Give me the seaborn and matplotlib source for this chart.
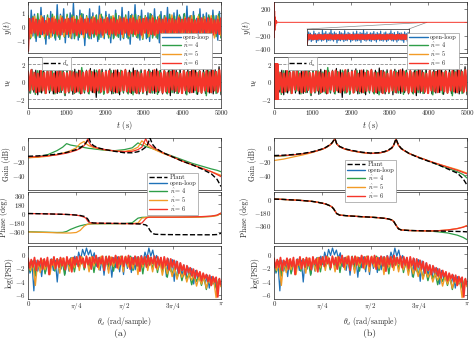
import numpy as np
import matplotlib
matplotlib.use("Agg")
import matplotlib.pyplot as plt
import seaborn as sns
from matplotlib.lines import Line2D
from matplotlib.patches import ConnectionPatch

# ------------------------------------------------------------------ data
time_ticks = [0, 1000, 2000, 3000, 4000, 5000]
freq_ticks_frac = [0, 0.25, 0.5, 0.75, 1.0]
freq_tick_labels = ['0', r'$\pi/4$', r'$\pi/2$', r'$3\pi/4$', r'$\pi$']
ctrl_labels = ['open-loop', r'$\hat{n}=4$', r'$\hat{n}=5$', r'$\hat{n}=6$']

# output y(t) samples
y_open = [0.6,-0.9,1.2,-0.7,0.9,-1.1,0.5,-0.8,1.4,-0.6,
          0.8,-1.3,0.7,-0.9,1.1,-0.7,0.6,-1.0,1.6,-0.8,
          0.9,-0.6,1.3,-1.2,0.7,-0.8,1.0,-0.9,1.7,-0.7,
          0.8,-1.0,1.2,-0.6,0.9,-1.4,0.6,-0.8,1.3,-0.9,
          1.0,-0.7,0.8,-1.1,1.5,-0.8,0.7,-0.9,1.1,-0.6,
          0.9,-1.2,0.6,-0.8,1.2,-0.7,0.8,-1.0,1.4,-0.9,
          0.7,-0.8,1.1,-1.3,0.9,-0.6,1.6,-0.8,0.8,-1.0,
          1.2,-0.7,0.6,-0.9,1.0,-1.1,0.9,-0.7,1.3,-0.8,
          0.7,-1.2,1.1,-0.6,0.8,-0.9,1.4,-0.8,0.6,-1.0,
          1.0,-0.7,1.2,-1.1,0.7,-0.8,0.9,-0.6,1.5,-0.9,
          0.8,-1.0,1.1,-0.7,0.6,-1.2,1.3,-0.8,0.9,-0.7,
          1.0,-0.9,0.7,-1.3,1.2,-0.6,0.8,-1.0,1.1,-0.8]
y_n4 = [0.8,-0.9,0.75,-0.85,0.95,-0.8,0.7,-0.9,0.85,-0.75,
        0.9,-0.85,0.8,-0.95,0.75,-0.8,0.9,-0.7,0.85,-0.9,
        0.75,-0.8,0.95,-0.85,0.8,-0.9,0.7,-0.8,0.85,-0.95,
        0.9,-0.75,0.8,-0.85,0.75,-0.9,0.95,-0.8,0.7,-0.85,
        0.85,-0.9,0.8,-0.75,0.9,-0.85,0.75,-0.95,0.8,-0.8,
        0.95,-0.85,0.7,-0.9,0.85,-0.8,0.8,-0.75,0.9,-0.9,
        0.75,-0.85,0.85,-0.8,0.95,-0.9,0.7,-0.85,0.8,-0.95,
        0.9,-0.8,0.75,-0.85,0.85,-0.9,0.8,-0.75,0.9,-0.85]
y_n5 = [0.7,-0.8,0.75,-0.7,0.8,-0.75,0.65,-0.8,0.75,-0.7,
        0.8,-0.75,0.7,-0.85,0.75,-0.7,0.8,-0.8,0.7,-0.75,
        0.75,-0.7,0.85,-0.8,0.7,-0.75,0.8,-0.7,0.75,-0.8,
        0.7,-0.75,0.8,-0.7,0.75,-0.85,0.7,-0.75,0.8,-0.7,
        0.75,-0.8,0.7,-0.75,0.85,-0.7,0.75,-0.8,0.7,-0.75,
        0.8,-0.7,0.75,-0.8,0.7,-0.75,0.8,-0.85,0.75,-0.7]
y_n6 = [-1.8,0.55,-0.5,0.6,-0.45,0.5,-0.6,0.45,-0.55,0.6,
        -0.5,0.4,-0.6,0.55,-0.45,0.6,-0.5,0.5,-0.55,0.45,
        -0.6,0.6,-0.4,0.5,-0.55,0.55,-0.5,0.6,-0.45,0.5,
        -0.6,0.45,-0.5,0.6,-0.55,0.5,-0.45,0.55,-0.6,0.5,
        -0.5,0.6,-0.55,0.45,-0.5,0.55,-0.6,0.5,-0.45,0.6,
        -0.55,0.5,-0.5,0.6,-0.6,0.45,-0.5,0.55,-0.55,0.6,
        -0.45,0.5,-0.6,0.55,-0.5,0.6,-0.55,0.45,-0.5,0.5,
        -0.6,0.55,-0.45,0.6,-0.5,0.5,-0.55,0.6,-0.6,0.45,
        -0.5,0.55,-0.55,0.5,-0.45,0.6,-0.6,0.5,-0.5,0.55,
        -0.55,0.45,-0.6,0.6,-0.5,0.5,-0.45,0.55,-0.6,0.6,
        -0.5,0.5,-0.55,0.45,-0.6,0.55,-0.5,0.6,-0.45,0.5,
        -0.55,0.6,-0.5,0.55,-0.6,0.45,-0.5,0.5,-0.55,0.6]

# (b) start-up transient of y(t)
trans_t = [0, 6, 12, 18, 24, 32, 42, 55, 70, 90, 120, 5000]
trans_y = [0, 300, -230, 170, -120, 80, -50, 30, -15, 6, 0, 0]

# control input u_t samples
u_da = [1.2,-1.3,1.4,-1.2,1.3,-1.5,1.25,-1.3,1.35,-1.2,
        1.6,-1.3,1.3,-1.4,1.2,-1.35,1.45,-1.25,1.3,-1.6,
        1.35,-1.3,1.25,-1.45,1.4,-1.2,1.3,-1.4,1.25,-1.3,
        1.3,-1.35,1.5,-1.25,1.35,-1.8,1.2,-1.3,1.4,-1.35,
        1.3,-1.25,1.45,-1.4,1.3,-1.3,1.35,-1.5,1.25,-1.3,
        1.4,-1.3,1.3,-1.35,1.55,-1.25,1.3,-1.4,1.35,-1.3,
        1.25,-1.5,1.4,-1.3,1.3,-1.35,1.45,-1.25,1.3,-1.4,
        1.35,-1.3,1.25,-1.6,1.4,-1.3,1.3,-1.35,1.5,-1.25,
        1.3,-1.4,1.4,-1.3,1.35,-1.25,1.3,-1.45,1.25,-1.3,
        1.4,-1.35,1.3,-1.3,1.45,-1.4,1.35,-1.3,1.7,-1.5]
u_n4 = [1.2,-1.3,1.1,-1.45,1.25,-1.2,1.15,-1.35,1.3,-1.1,
        1.2,-1.4,1.1,-1.25,1.3,-1.5,1.15,-1.2,1.25,-1.35,
        1.1,-1.3,1.6,-1.2,1.2,-1.4,1.15,-1.25,1.3,-1.3,
        1.2,-1.45,1.1,-1.2,1.25,-1.35,1.15,-1.3,1.3,-1.2,
        1.2,-1.4,1.1,-1.5,1.25,-1.25,1.15,-1.35,1.3,-1.2,
        1.2,-1.3,1.1,-1.45,1.25,-1.2,1.15,-1.4,1.3,-1.25,
        1.2,-1.35,1.1,-1.3,1.25,-1.5,1.15,-1.2,1.3,-1.4,
        1.2,-1.3,1.1,-1.6,1.25,-1.25,1.15,-1.35,1.3,-1.2]
u_n6 = [1.1,-1.0,1.3,-0.9,1.0,-1.2,0.9,-1.1,1.2,-1.0,
        1.0,-1.3,1.1,-0.9,1.25,-1.0,0.9,-1.2,1.1,-1.1,
        1.2,-0.95,1.0,-1.25,0.95,-1.1,1.3,-1.0,1.05,-1.2,
        0.9,-1.05,1.2,-1.3,1.0,-0.9,1.15,-1.1,1.25,-1.0,
        1.05,-1.2,0.95,-1.0,1.3,-1.15,1.0,-0.95,1.1,-1.25,
        1.2,-1.0,0.9,-1.1,1.25,-1.2,1.0,-1.05,1.15,-0.95,
        1.3,-1.1,1.0,-1.2,0.95,-1.0,1.2,-1.3,1.05,-1.1,
        0.9,-1.15,1.25,-1.0,1.1,-1.2,1.0,-0.95,1.3,-1.1,
        1.15,-1.0,0.95,-1.25,1.2,-1.1,1.0,-1.2,1.1,-0.9,
        1.25,-1.05,1.0,-1.15,0.9,-1.3,1.2,-1.0,1.05,-1.1,
        1.1,-1.2,1.3,-0.95,1.0,-1.1,1.15,-1.25,0.95,-1.0,
        1.2,-1.1,1.05,-1.2,1.25,-1.0,1.1,-1.15,1.3,-1.05]
u_bound = [-2, 2]
# (b) saturated start of u_t
sat_t = [0, 10, 20, 30, 40, 50, 60, 70, 80, 90, 100, 110]
sat_u = [2, -2, 2, -2, 2, -2, 2, -2, 2, -2, 2, -2]

# frequency grid (fractions of pi) for the Bode curves
bode_frac = [0, .05, .1, .15, .18, .2, .22, .25, .27, .29, .3, .31, .316, .325, .34,
             .37, .4, .45, .5, .54, .57, .59, .61, .62, .632, .645, .66, .7, .75, .8,
             .85, .9, .95, .98, 1.0]
# (a) gain, dB
gain_a_plant = [-13,-12.5,-11.5,-10,-8.5,-7.5,-6,-3.5,-1,3,6,10,13,6,2,
                -1.5,-3.5,-6,-8,-8,-6.5,-4,0,4,13,4,-1,-8,-14,-20,-25,-31,-38,-46,-56]
gain_a_n4 = [-15,-14,-11,-5,0,5,3,1.5,0.5,-0.5,-1,-1.5,-1.8,-2,-2.5,
             -3.5,-4.5,-5,-3.5,-1,6,3,1,0,-1,-2,-3.5,-8,-13,-18,-23,-27,-31,-33,-35]
gain_a_n5 = [-15,-14.5,-13,-10.5,-8.5,-7,-5,-1,5,8,5,3,2,1,-0.5,
             -2.5,-4,-5.5,-6,-4,0,9,4,2,0,-2,-4,-9,-14,-20,-25,-30,-35,-38,-40]
gain_a_n6 = [-14,-13.5,-12.5,-11,-9.5,-8.5,-7,-4.5,-2,2,6,12,7,3,0.5,
             -2,-3.5,-5.5,-6.5,-6,-3.5,0,12,6,3,0,-2,-8,-14,-20,-25,-30,-35,-39,-42]
# (a) phase, deg
phase_a_plant = [0,-3,-7,-12,-15,-18,-22,-30,-38,-55,-70,-110,-150,-175,-185,
                 -188,-190,-192,-195,-198,-202,-208,-222,-250,-330,-390,-405,-410,-412,-413,
                 -414,-415,-415,-410,-385]
phase_a_n4 = [-355,-360,-365,-370,-368,-350,-310,-265,-240,-222,-215,-208,-205,-203,-201,
              -200,-199,-198,-196,-180,-90,-75,-72,-72,-72,-72,-72,-72,-72,-71,
              -69,-65,-55,-35,5]
phase_a_n5 = [-360,-365,-370,-376,-379,-380,-380,-370,-330,-250,-225,-210,-205,-200,-198,
              -197,-196,-196,-196,-195,-185,-90,-78,-75,-75,-75,-75,-75,-75,-74,
              -72,-68,-58,-40,0]
phase_a_n6 = [0,-3,-7,-12,-15,-18,-22,-32,-45,-70,-90,-150,-172,-180,-186,
              -189,-191,-193,-196,-199,-200,-185,-100,-75,-70,-70,-70,-70,-70,-68,
              -65,-60,-50,-30,10]
# (b) gain, dB
gain_b_plant = [-12,-11.5,-10.5,-9,-7.5,-6.5,-5,-2.5,0,3.5,6,10,12,5,1,
                -2.5,-4.5,-7,-8.5,-8,-6.5,-4.5,-1,3,12,3,-2,-9,-15,-20,-25,-31,-37,-45,-54]
gain_b_n4 = [-13,-12.5,-11,-9.5,-8,-7,-5.5,-3,-0.5,3,5.5,9.5,11.5,4.5,0.5,
             -3,-5,-7.5,-9,-8.5,-7,-5,-1.5,2.5,11,2.5,-2.5,-9,-14.5,-19.5,-25,-30,-35,-39,-44]
gain_b_n5 = [-19,-17,-14,-11,-9,-7.5,-5.5,-3,-0.5,3,5.5,9.5,11.5,4.5,0.5,
             -3,-5,-7.5,-9,-8.5,-7,-5,-1.5,2.5,11,2.5,-2.5,-9,-14.5,-19.5,-24,-28,-32,-35,-37]
gain_b_n6 = [-12.5,-12,-11,-9.5,-8,-7,-5.5,-3,-0.5,3,5.5,9.5,11.5,4.5,0.5,
             -3,-5,-7.5,-9,-8.5,-7,-5,-1.5,2.5,11,2.5,-2.5,-9,-14.5,-19.5,-24,-28.5,-33,-36,-38]
# (b) phase, deg
phase_b_plant = [0,-5,-12,-20,-27,-32,-40,-55,-68,-90,-105,-135,-160,-195,-215,
                 -222,-228,-236,-243,-250,-258,-265,-280,-300,-350,-400,-415,-422,-425,-428,
                 -430,-432,-435,-437,-440]
phase_b_n4 = phase_b_plant[:30] + [-440,-455,-485,-515,-545]
phase_b_n5 = phase_b_plant[:30] + [-425,-415,-395,-375,-355]
phase_b_n6 = phase_b_plant[:30] + [-425,-415,-397,-378,-358]

# log(PSD) samples over [0, pi]
psd_open = [-1.0,-2.8,-1.2,-5.4,-0.9,-2.5,-1.1,-3.3,-0.8,-2.6,
            -1.0,-3.0,-0.7,-2.4,-0.9,-4.1,-0.8,-2.2,-0.6,-2.9,
            -0.7,-2.5,-0.5,-2.0,-0.3,-1.5,0.3,-0.8,0.7,-0.2,
            0.9,-0.1,0.6,-0.6,0.2,-1.8,-0.5,-2.4,-0.6,-3.1,
            -0.5,-2.2,-0.6,-3.4,-0.5,-2.0,-0.4,-2.6,-0.5,-3.0,
            -0.5,-2.1,-0.4,-2.7,-0.5,-2.3,-0.4,-1.9,-0.2,-1.2,
            0.3,-0.6,0.9,-0.3,0.6,-0.9,-0.2,-2.0,-0.5,-2.6,
            -0.6,-3.3,-0.7,-2.5,-0.8,-4.0,-1.0,-2.8,-1.3,-3.2,
            -1.6,-3.6,-1.9,-3.3,-2.1,-4.4,-2.4,-3.6,-2.7,-4.0,
            -3.0,-4.3,-3.1,-5.0,-3.3,-4.4,-3.5,-5.6,-3.7,-4.7]
psd_n4 = [-1.2,-2.6,-1.0,-3.2,-1.1,-2.4,-0.9,-2.9,-1.0,-2.2,
          -0.8,-2.5,-0.7,-2.0,-0.9,-3.1,-0.6,-2.2,-0.5,-2.6,
          -0.6,-1.9,-0.4,-2.3,-0.5,-1.8,-0.4,-2.7,-0.5,-2.0,
          -0.4,-2.2,-0.3,-1.8,-0.5,-2.5,-0.4,-1.9,-0.3,-2.1,
          -0.4,-1.7,-0.3,-2.4,-0.4,-1.8,-0.5,-2.9,-0.4,-2.0,
          -0.5,-2.2,-0.6,-2.7,-0.9,-2.5,-1.2,-3.4,-1.5,-3.0,
          -1.9,-3.5,-2.2,-3.9,-2.5,-3.6,-2.8,-4.5,-3.0,-4.0,
          -3.2,-4.6,-3.3,-5.2,-3.5,-4.5,-3.7,-5.0,-3.8,-4.6]
psd_n5 = [-1.1,-2.4,-1.3,-4.6,-1.0,-2.7,-0.9,-2.3,-1.1,-3.0,
          -0.8,-2.2,-0.7,-2.8,-0.6,-2.1,-0.8,-2.5,-0.5,-2.0,
          -0.5,-2.4,-0.4,-1.9,-0.6,-2.6,-0.4,-1.7,-0.5,-2.3,
          -0.3,-2.0,-0.5,-2.8,-0.4,-1.8,-0.3,-2.2,-0.4,-2.6,
          -0.3,-1.9,-0.5,-2.1,-0.4,-3.0,-0.5,-1.9,-0.6,-2.4,
          -0.7,-2.6,-0.8,-2.3,-1.0,-3.1,-1.3,-2.9,-1.6,-3.3,
          -2.0,-3.7,-2.3,-3.4,-2.6,-4.1,-2.9,-3.8,-3.1,-4.7,
          -3.3,-4.4,-3.4,-5.0,-3.6,-4.6,-3.8,-6.4,-3.9,-4.8]
psd_n6 = [-0.6,-2.0,-0.8,-1.9,-0.5,-2.4,-0.9,-1.7,-0.6,-2.2,
          -0.7,-1.8,-0.5,-3.0,-0.8,-1.6,-0.4,-2.1,-0.7,-1.9,
          -0.5,-1.7,-0.6,-2.3,-0.4,-1.5,-0.7,-2.6,-0.5,-1.6,
          -0.4,-1.8,-0.3,-1.4,-0.6,-2.0,-0.3,-1.5,-0.5,-2.2,
          -0.4,-1.3,-0.2,-1.9,-0.5,-1.4,-0.3,-2.4,-0.4,-1.5,
          -0.3,-1.6,-0.5,-1.3,-0.2,-2.0,-0.4,-1.5,-0.3,-1.8,
          -0.4,-1.4,-0.2,-2.2,-0.5,-1.5,-0.3,-1.7,-0.4,-2.5,
          -0.3,-1.5,-0.4,-1.9,-0.2,-1.6,-0.5,-1.4,-0.3,-2.0,
          -0.4,-1.6,-0.5,-2.1,-0.4,-1.7,-0.6,-2.3,-0.7,-1.9,
          -0.9,-2.2,-1.1,-2.8,-1.3,-2.4,-1.6,-3.0,-1.7,-2.7,
          -2.0,-3.2,-2.2,-3.5,-2.4,-3.3,-2.6,-3.9,-2.8,-3.6,
          -3.0,-4.0,-3.1,-4.6,-3.3,-4.1,-3.4,-6.3,-3.6,-4.5]

# ------------------------------------------------------------------ style
sns.set_style("white")
plt.rcParams.update({
    'font.family': ['cmr10', 'DejaVu Serif'],
    'mathtext.fontset': 'cm',
    'axes.formatter.use_mathtext': True,
    'axes.unicode_minus': True,
    'axes.linewidth': 0.5,
    'axes.edgecolor': '#222222',
})

C_OPEN = '#1f72b8'
C_N4 = '#2e9e48'
C_N5 = '#f29b26'
C_N6 = '#f5352a'
FS = 5.0      # tick labels
LFS = 5.5     # axis labels

W, H = 474, 339
fig = plt.figure(figsize=(W / 100, H / 100), dpi=100)

col_x = [28, 274]
col_w = 193
rows = {'y': (2, 53), 'u': (57, 108), 'gain': (138, 190), 'phase': (192, 243), 'psd': (246, 299)}


def make_ax(col, row):
    top, bot = rows[row]
    ax = fig.add_axes([col_x[col] / W, 1 - bot / H, col_w / W, (bot - top) / H])
    ax.tick_params(direction='in', length=2, width=0.4, labelsize=FS, top=True, right=True, pad=1.5)
    for s in ax.spines.values():
        s.set_linewidth(0.5)
    return ax


def line(ax, x, y, color, lw=1.0, ls='-', z=2):
    sns.lineplot(x=np.asarray(x, float), y=np.asarray(y, float), ax=ax, color=color, lw=lw,
                 linestyle=ls, estimator=None, sort=False, legend=False, zorder=z)


def tgrid(arr):
    return np.linspace(0, 5000, len(arr))


def fgrid(arr):
    return np.linspace(0, np.pi, len(arr))


ctrl_handles = [Line2D([], [], color=c, lw=1.0) for c in (C_OPEN, C_N4, C_N5, C_N6)]
plant_handle = Line2D([], [], color='k', lw=1.0, ls='--')


def legend_box(handles, labels, anchor, target=None, fs=4.6, hl=2.6):
    kw = dict(loc='upper left', bbox_to_anchor=anchor, fontsize=fs, frameon=True,
              fancybox=False, edgecolor='#9a9a9a', framealpha=1, borderpad=0.25,
              labelspacing=0.0, handlelength=hl, handletextpad=0.4, borderaxespad=0)
    if target is None:
        leg = fig.legend(handles, labels, bbox_transform=fig.transFigure, **kw)
    else:
        leg = target.legend(handles, labels, **kw)
    leg.get_frame().set_linewidth(0.5)
    leg.set_zorder(20)
    return leg


fr = np.array(bode_frac) * np.pi
NOISE_LW = 1.6

for col in (0, 1):
    # ---- y(t)
    ax_y = make_ax(col, 'y')
    if col == 0:
        line(ax_y, tgrid(y_open), y_open, C_OPEN, lw=1.0)
        line(ax_y, tgrid(y_n4), y_n4, C_N4, lw=1.0)
        line(ax_y, tgrid(y_n5), y_n5, C_N5, lw=1.0)
        line(ax_y, tgrid(y_n6), y_n6, C_N6, lw=NOISE_LW)
        ax_y.set_ylim(-1.95, 1.8)
        ax_y.set_yticks([-1, 0, 1])
    else:
        line(ax_y, trans_t, trans_y, C_N6, lw=0.7)
        ax_y.set_ylim(-460, 305)
        ax_y.set_yticks([-400, -200, 0, 200])
        ins = ax_y.inset_axes([0.171, 0.157, 0.528, 0.314])
        line(ins, tgrid(y_open), y_open, C_OPEN, lw=0.8)
        line(ins, tgrid(y_n6), y_n6, C_N6, lw=1.2)
        ins.set_xlim(0, 5000)
        ins.set_ylim(-1.9, 1.9)
        ins.set_xticks([])
        ins.set_yticks([])
        ins.set_xlabel('')
        ins.set_ylabel('')
        for s in ins.spines.values():
            s.set_linewidth(0.5)
        for corner in ((0, 1), (1, 1)):
            cp = ConnectionPatch(xyA=corner, coordsA=ins.transAxes, xyB=(3960, 0),
                                 coordsB=ax_y.transData, color='#8a8a8a', lw=0.5)
            ax_y.add_artist(cp)
    ax_y.set_xlim(0, 5000)
    ax_y.set_xticks(time_ticks)
    ax_y.set_xticklabels([])
    ax_y.set_xlabel('')
    ax_y.set_ylabel(r'$y(t)$', fontsize=LFS + 0.5, labelpad=1)

    # ---- u_t
    ax_u = make_ax(col, 'u')
    for b in u_bound:
        ax_u.axhline(b, color='#8c8c8c', lw=0.6, ls='--', zorder=1)
    line(ax_u, tgrid(u_da), u_da, 'k', lw=0.8)
    line(ax_u, tgrid(u_n4), u_n4, C_N4, lw=1.0)
    line(ax_u, tgrid(u_n6), u_n6, C_N6, lw=NOISE_LW)
    if col == 1:
        line(ax_u, sat_t, sat_u, C_N6, lw=1.2)
    ax_u.set_xlim(0, 5000)
    ax_u.set_ylim(-3, 2.8)
    ax_u.set_yticks([-2, 0, 2])
    ax_u.set_xticks(time_ticks)
    ax_u.set_xticklabels([str(t) for t in time_ticks])
    ax_u.set_xlabel(r'$t$ (s)', fontsize=LFS + 0.5, labelpad=2)
    ax_u.set_ylabel(r'$u_t$', fontsize=LFS + 0.5, labelpad=1)
    legend_box([Line2D([], [], color='k', lw=1.0, ls='--')], [r'$d_a$'],
               (0.07, 1.0), target=ax_u)

    legend_box(ctrl_handles, ctrl_labels,
               ((160 if col == 0 else 407) / W, 1 - 33 / H), hl=3.0)

    # ---- gain
    ax_g = make_ax(col, 'gain')
    if col == 0:
        gains = (gain_a_n4, gain_a_n5, gain_a_n6, gain_a_plant)
        phases = (phase_a_n4, phase_a_n5, phase_a_n6, phase_a_plant)
    else:
        gains = (gain_b_n4, gain_b_n5, gain_b_n6, gain_b_plant)
        phases = (phase_b_n4, phase_b_n5, phase_b_n6, phase_b_plant)
    for g, c in zip(gains[:3], (C_N4, C_N5, C_N6)):
        line(ax_g, fr, g, c, lw=0.9)
    line(ax_g, fr, gains[3], 'k', lw=1.0, ls='--', z=3)
    ax_g.set_xlim(0, np.pi)
    ax_g.set_ylim(-61, 13)
    ax_g.set_yticks([-40, -20, 0])
    ax_g.set_xticks(np.array(freq_ticks_frac) * np.pi)
    ax_g.set_xticklabels([])
    ax_g.set_ylabel('Gain (dB)', fontsize=LFS, labelpad=1)

    # ---- phase
    ax_p = make_ax(col, 'phase')
    for p, c in zip(phases[:3], (C_N4, C_N5, C_N6)):
        line(ax_p, fr, p, c, lw=0.9)
    line(ax_p, fr, phases[3], 'k', lw=1.0, ls='--', z=3)
    ax_p.set_xlim(0, np.pi)
    if col == 0:
        ax_p.set_ylim(-575, 420)
        ax_p.set_yticks([-360, -180, 0, 180, 360])
    else:
        ax_p.set_ylim(-590, 95)
        ax_p.set_yticks([-360, -180, 0])
    ax_p.set_xticks(np.array(freq_ticks_frac) * np.pi)
    ax_p.set_xticklabels([])
    ax_p.set_ylabel('Phase (deg)', fontsize=LFS)
    if col == 0:
        ax_p.yaxis.set_label_coords(-0.105, 0.5)

    legend_box([plant_handle] + ctrl_handles, ['Plant'] + ctrl_labels,
               ((147 if col == 0 else 345) / W, 1 - (173 if col == 0 else 160) / H), hl=2.9)

    # ---- PSD
    ax_s = make_ax(col, 'psd')
    line(ax_s, fgrid(psd_open), psd_open, C_OPEN, lw=0.9)
    line(ax_s, fgrid(psd_n4), psd_n4, C_N4, lw=1.0)
    line(ax_s, fgrid(psd_n5), psd_n5, C_N5, lw=1.0)
    line(ax_s, fgrid(psd_n6), psd_n6, C_N6, lw=1.3)
    ax_s.set_xlim(0, np.pi)
    ax_s.set_ylim(-6.6, 1.2)
    ax_s.set_yticks([-6, -4, -2, 0])
    ax_s.set_xticks(np.array(freq_ticks_frac) * np.pi)
    ax_s.set_xticklabels(freq_tick_labels)
    ax_s.set_xlabel(r'$\theta_d$ (rad/sample)', fontsize=LFS, labelpad=2)
    ax_s.set_ylabel('log(PSD)', fontsize=LFS, labelpad=1)

fig.text(120 / W, 1 - 334 / H, '(a)', ha='center', va='center', fontsize=7)
fig.text(370 / W, 1 - 334 / H, '(b)', ha='center', va='center', fontsize=7)

fig.savefig('out.png', dpi=100)
